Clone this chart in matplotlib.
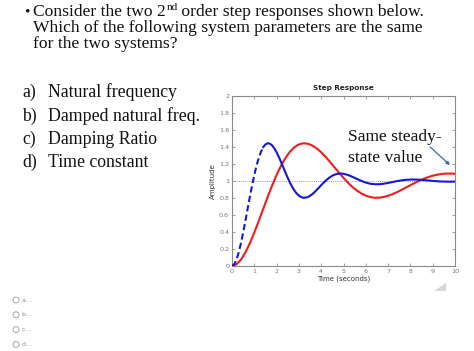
import numpy as np
import matplotlib
matplotlib.use("Agg")
import matplotlib.pyplot as plt

# ---- data ----
blue_t_fine = [round(0.1 * i, 1) for i in range(51)]          # 0 .. 5 s
blue_y_fine = [0.000, 0.019, 0.074, 0.159, 0.267, 0.393, 0.530, 0.672, 0.813, 0.947,
               1.071, 1.180, 1.272, 1.345, 1.398, 1.430, 1.444, 1.439, 1.418, 1.383,
               1.337, 1.283, 1.223, 1.160, 1.097, 1.037, 0.980, 0.930, 0.888, 0.853,
               0.828, 0.811, 0.803, 0.804, 0.812, 0.826, 0.845, 0.869, 0.895, 0.923,
               0.951, 0.978, 1.003, 1.026, 1.046, 1.062, 1.074, 1.083, 1.087, 1.088,
               1.085]
blue_t_coarse = [round(5.2 + 0.2 * i, 1) for i in range(25)]  # 5.2 .. 10 s
blue_y_coarse = [1.071, 1.049, 1.025, 1.001, 0.981, 0.968, 0.962, 0.962, 0.968, 0.977,
                 0.988, 0.999, 1.007, 1.014, 1.017, 1.017, 1.015, 1.011, 1.006, 1.001,
                 0.997, 0.994, 0.993, 0.992, 0.993]
red_t = [round(0.2 * i, 1) for i in range(51)]                # 0 .. 10 s
red_y = [0.000, 0.019, 0.074, 0.159, 0.267, 0.393, 0.530, 0.672, 0.813, 0.947,
         1.071, 1.180, 1.272, 1.345, 1.398, 1.430, 1.444, 1.439, 1.418, 1.383,
         1.337, 1.283, 1.223, 1.160, 1.097, 1.037, 0.980, 0.930, 0.888, 0.853,
         0.828, 0.811, 0.803, 0.804, 0.812, 0.826, 0.845, 0.869, 0.895, 0.923,
         0.951, 0.978, 1.003, 1.026, 1.046, 1.062, 1.074, 1.083, 1.087, 1.088,
         1.085]
dash_end = 1.4  # blue is drawn dashed up to this time
steady_state = 1.0

x_ticks = [0, 1, 2, 3, 4, 5, 6, 7, 8, 9, 10]
y_ticks = [0, 0.2, 0.4, 0.6, 0.8, 1, 1.2, 1.4, 1.6, 1.8, 2]
y_tick_labels = ["0", "0.2", "0.4", "0.6", "0.8", "1", "1.2", "1.4", "1.6", "1.8", "2"]

q1_parts = ["Consider the two 2", "nd", " order step responses shown below."]
question_lines = ["Which of the following system parameters are the same",
                  "for the two systems?"]
option_letters = ["a)", "b)", "c)", "d)"]
option_texts = ["Natural frequency", "Damped natural freq.", "Damping Ratio", "Time constant"]
radio_labels = ["a. .", "b. .", "c. .", "d. ."]
annotation_lines = ["Same steady-", "state value"]

# ---- figure ----
W, H = 474, 351
fig = plt.figure(figsize=(W / 100, H / 100), dpi=100)
fig.patch.set_facecolor("white")
renderer = fig.canvas.get_renderer()

def fx(px):
    return px / W

def fy(py):
    return 1 - py / H

serif = ["Liberation Serif", "DejaVu Serif"]
txt_color = "#111111"
QFS = 12.6

# question text: first line with superscript pieces
fig.text(fx(24), fy(15.5), "\u2022", fontsize=11, family=serif, va="baseline", ha="left",
         color=txt_color)
t0 = fig.text(fx(33), fy(15.5), q1_parts[0], fontsize=QFS, family=serif, va="baseline",
              ha="left", color=txt_color)
x_end = t0.get_window_extent(renderer).x1
t1 = fig.text(x_end / W + 0.5 / W, fy(10.5), q1_parts[1], fontsize=8, family=serif,
              va="baseline", ha="left", color=txt_color)
x_end2 = t1.get_window_extent(renderer).x1
fig.text(x_end2 / W, fy(15.5), q1_parts[2], fontsize=QFS, family=serif, va="baseline",
         ha="left", color=txt_color)
for i, line in enumerate(question_lines):
    fig.text(fx(33), fy(31.5 + 16 * i), line, fontsize=QFS, family=serif,
             va="baseline", ha="left", color=txt_color)

# options
for i, (let, txt) in enumerate(zip(option_letters, option_texts)):
    yy = fy(97.3 + 23.3 * i)
    fig.text(fx(22), yy, let, fontsize=12.8, family=serif, va="baseline", ha="left",
             color=txt_color)
    fig.text(fx(48), yy, txt, fontsize=12.8, family=serif, va="baseline", ha="left",
             color=txt_color)

# radio buttons
for i, lab in enumerate(radio_labels):
    yy = 300 + 14.8 * i
    fig.patches.append(matplotlib.patches.Ellipse((fx(16), fy(yy)), 6 / W, 6 / H,
                                                   transform=fig.transFigure, fill=False,
                                                   edgecolor="#999999", lw=0.6))
    fig.text(fx(22), fy(yy), lab, fontsize=4.5, color="#888888", va="center", ha="left")

# small resize grip at bottom right
fig.patches.append(matplotlib.patches.Polygon(
    [(fx(434), fy(291)), (fx(446), fy(291)), (fx(446), fy(283))], closed=True,
    transform=fig.transFigure, facecolor="#d8d8d8", edgecolor="none"))

# ---- step response axes ----
ax = fig.add_axes([fx(232), fy(266), fx(455) - fx(232), fy(96) - fy(266)])
ax.set_facecolor("white")

bt = np.array(blue_t_fine + blue_t_coarse)
by = np.array(blue_y_fine + blue_y_coarse)
dash_mask = bt <= dash_end
solid_mask = bt >= dash_end

ax.axhline(steady_state, color="#9a9a9a", lw=0.7, ls=(0, (1, 1.2)), zorder=1)
ax.plot(red_t, red_y, color="#ee1c1c", lw=1.5, zorder=3)
ax.plot(bt[dash_mask], by[dash_mask], color="#1616d8", lw=1.5, ls=(0, (3, 1.6)), zorder=4)
ax.plot(bt[solid_mask], by[solid_mask], color="#1616d8", lw=1.5, zorder=4)

ax.set_xlim(0, 10)
ax.set_ylim(0, 2)
ax.set_xticks(x_ticks)
ax.set_yticks(y_ticks)
ax.set_yticklabels(y_tick_labels)
ax.tick_params(direction="in", length=2, width=0.5, colors="#777777", labelsize=4.6,
               top=True, right=True, pad=2)
for s in ax.spines.values():
    s.set_color("#8a8a8a")
    s.set_linewidth(0.8)

ax.set_title("Step Response", fontsize=5.2, color="#222222", pad=4, fontweight="bold")
ax.set_xlabel("Time (seconds)", fontsize=5.0, color="#333333", labelpad=1.5)
ax.set_ylabel("Amplitude", fontsize=5.0, color="#333333", labelpad=2)

# annotation
for i, line in enumerate(annotation_lines):
    fig.text(fx(348), fy(141 + 21 * i), line, fontsize=QFS, family=serif, va="baseline",
             ha="left", color=txt_color)
ax.annotate("", xy=(fx(452), fy(167)), xycoords="figure fraction",
            xytext=(fx(428), fy(145)), textcoords="figure fraction",
            arrowprops=dict(arrowstyle="-|>", color="#3d6aa3", lw=0.9, mutation_scale=5))

fig.savefig("out.png", dpi=100, facecolor="white")
